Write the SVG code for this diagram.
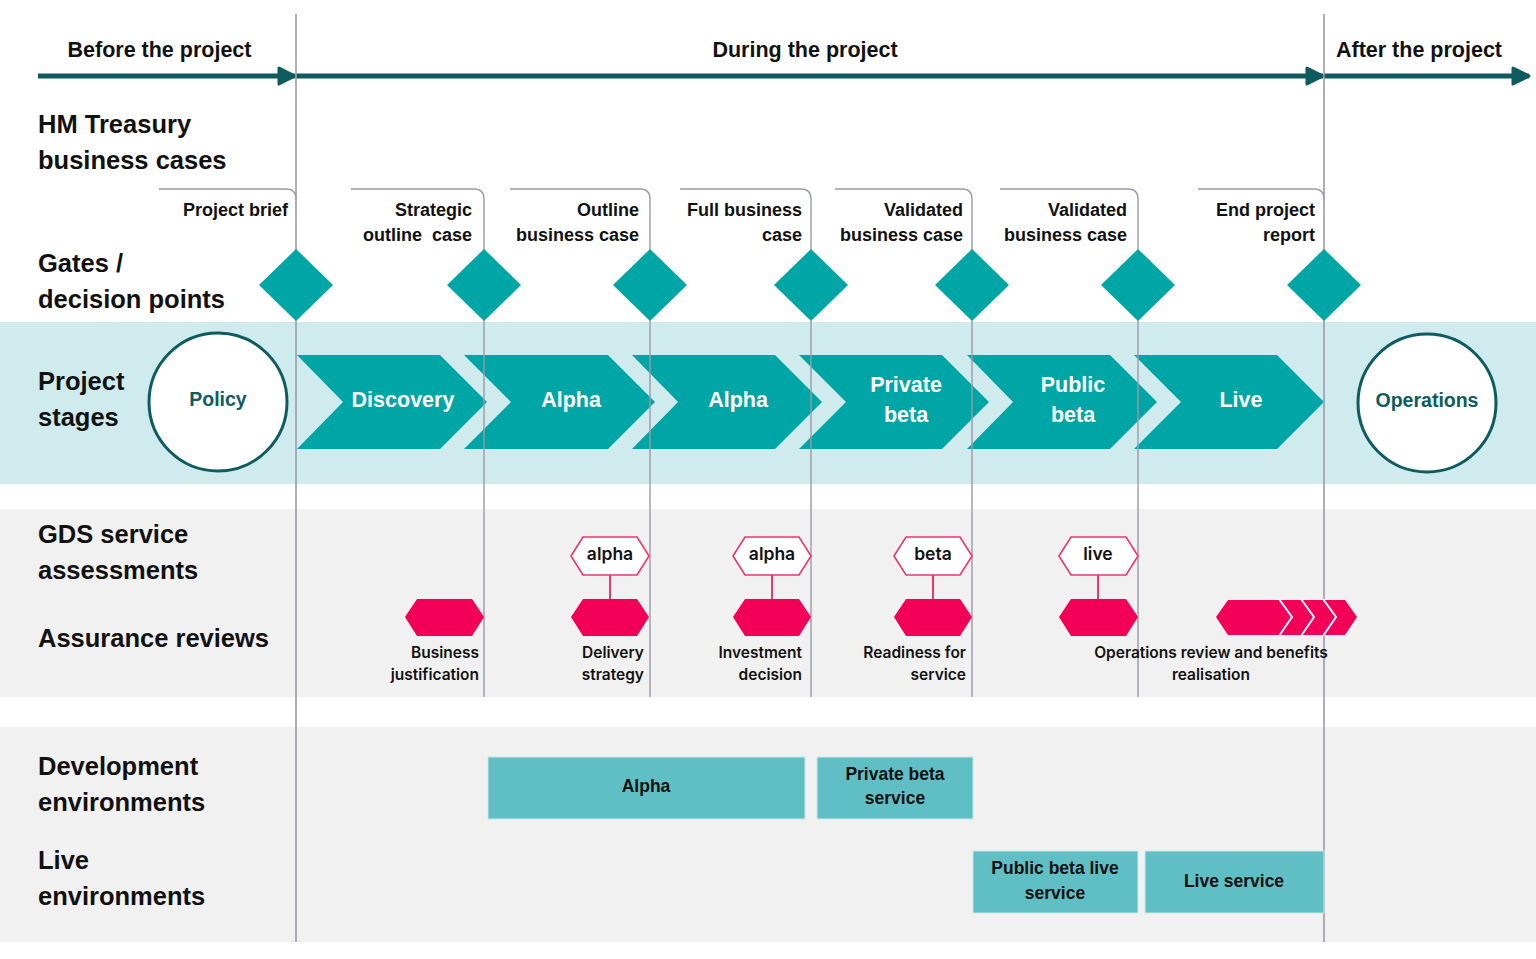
<svg xmlns="http://www.w3.org/2000/svg" width="1536" height="959" viewBox="0 0 1536 959">
<defs>
<style>
.t{font-family:"Liberation Sans",Arial,sans-serif;font-weight:bold;fill:#111}
.hd{font-size:21.5px;text-anchor:middle}
.lb{font-size:25.5px}
.gl{font-size:18px;text-anchor:end}
.ch{font-size:21.5px;fill:#fff;text-anchor:middle}
.bx{font-size:17.5px;text-anchor:middle}
.ci{font-size:19.5px;fill:#0d5c60;text-anchor:middle}
.r{font-family:Inter,"Noto Sans",sans-serif;font-weight:600;fill:#111}
.rl{font-size:15.5px;text-anchor:end}
.hx{font-size:17.5px;text-anchor:middle}
.vl{stroke:#9b9ba8;stroke-width:1.6;fill:none}
.br{stroke:#9b9ba8;stroke-width:1.4;fill:none}
.dm{fill:#00a6a6}
.chv{fill:#00a6a6}
.ho{fill:#fff;stroke:#f2336b;stroke-width:1.6}
.hf{fill:#f20057}
.box{fill:#5fbfc4;stroke:#c9e8ea;stroke-width:1}
</style>
<marker id="ah" viewBox="0 0 10 10" refX="9" refY="5" markerWidth="4" markerHeight="4.4" orient="auto" markerUnits="strokeWidth">
<path d="M1,1 L9,5 L1,9 Z" fill="#0e5b5f" stroke="#0e5b5f" stroke-width="1.5" stroke-linejoin="round"/>
</marker>
</defs>
<rect width="1536" height="959" fill="#fff"/>
<!-- bands -->
<rect x="0" y="322" width="1536" height="162" fill="#cfebed"/>
<rect x="0" y="509" width="1536" height="188" fill="#f1f1f1"/>
<rect x="0" y="727" width="1536" height="215" fill="#f1f1f1"/>

<!-- timeline arrows -->
<g id="timeline">
<line x1="38" y1="76" x2="295" y2="76" stroke="#0e5b5f" stroke-width="5" marker-end="url(#ah)"/>
<line x1="296" y1="76" x2="1323" y2="76" stroke="#0e5b5f" stroke-width="5" marker-end="url(#ah)"/>
<line x1="1324" y1="76" x2="1529" y2="76" stroke="#0e5b5f" stroke-width="5" marker-end="url(#ah)"/>
<text class="t hd" x="159.5" y="57">Before the project</text>
<text class="t hd" x="805" y="57">During the project</text>
<text class="t hd" x="1419" y="57">After the project</text>
</g>

<!-- row labels -->
<g id="row-labels">
<text class="t lb" x="38" y="133">HM Treasury</text>
<text class="t lb" x="38" y="168.5">business cases</text>
<text class="t lb" x="38" y="272">Gates /</text>
<text class="t lb" x="38" y="307.5">decision points</text>
<text class="t lb" x="38" y="390">Project</text>
<text class="t lb" x="38" y="425.5">stages</text>
<text class="t lb" x="38" y="543">GDS service</text>
<text class="t lb" x="38" y="578.5">assessments</text>
<text class="t lb" x="38" y="647">Assurance reviews</text>
<text class="t lb" x="38" y="775">Development</text>
<text class="t lb" x="38" y="810.5">environments</text>
<text class="t lb" x="38" y="869">Live</text>
<text class="t lb" x="38" y="904.5">environments</text>
</g>

<!-- stage chevrons -->
<g id="stages">
<g id="stage-discovery"><polygon class="chv" points="297,355 440,355 487,402 440,449 297,449 343,402"/><text class="t ch" x="403" y="407">Discovery</text></g>
<g id="stage-alpha1"><polygon class="chv" points="464,355 608,355 655,402 608,449 464,449 511,402"/><text class="t ch" x="571" y="407">Alpha</text></g>
<g id="stage-alpha2"><polygon class="chv" points="632,355 775,355 822,402 775,449 632,449 678,402"/><text class="t ch" x="738" y="407">Alpha</text></g>
<g id="stage-private-beta"><polygon class="chv" points="799,355 942,355 989,402 942,449 799,449 846,402"/><text class="t ch" x="906" y="392">Private</text><text class="t ch" x="906" y="422">beta</text></g>
<g id="stage-public-beta"><polygon class="chv" points="967,355 1110,355 1157,402 1110,449 967,449 1013,402"/><text class="t ch" x="1073" y="392">Public</text><text class="t ch" x="1073" y="422">beta</text></g>
<g id="stage-live"><polygon class="chv" points="1134,355 1277,355 1324,402 1277,449 1134,449 1181,402"/><text class="t ch" x="1241" y="407">Live</text></g>
</g>

<g id="policy"><circle cx="218" cy="402" r="69" fill="#fff" stroke="#0d5c60" stroke-width="3"/><text class="t ci" x="218" y="406">Policy</text></g>
<g id="operations"><circle cx="1427" cy="403" r="69" fill="#fff" stroke="#0d5c60" stroke-width="3"/><text class="t ci" x="1427" y="407">Operations</text></g>

<!-- vertical gate lines and brackets -->
<g id="connectors">
<line class="vl" x1="296" y1="14" x2="296" y2="942"/>
<line class="vl" x1="1324" y1="14" x2="1324" y2="942"/>
<path class="br" d="M159,189 H286 Q296,189 296,199"/>
<path class="br" d="M351,189 H474 Q484,189 484,199 V697"/>
<path class="br" d="M510,189 H640 Q650,189 650,199 V697"/>
<path class="br" d="M680,189 H801 Q811,189 811,199 V697"/>
<path class="br" d="M835,189 H962 Q972,189 972,199 V697"/>
<path class="br" d="M1000,189 H1128 Q1138,189 1138,199 V697"/>
<path class="br" d="M1198,189 H1314 Q1324,189 1324,199"/>
<line x1="610" y1="575" x2="610" y2="599" stroke="#f2336b" stroke-width="2"/>
<line x1="772" y1="575" x2="772" y2="599" stroke="#f2336b" stroke-width="2"/>
<line x1="933" y1="575" x2="933" y2="599" stroke="#f2336b" stroke-width="2"/>
<line x1="1098" y1="575" x2="1098" y2="599" stroke="#f2336b" stroke-width="2"/>
</g>

<!-- gate labels -->
<g id="gate-labels">
<text class="t gl" x="288" y="215.5">Project brief</text>
<text class="t gl" x="472" y="215.5">Strategic</text><text class="t gl" x="472" y="240.5" xml:space="preserve">outline  case</text>
<text class="t gl" x="639" y="215.5">Outline</text><text class="t gl" x="639" y="240.5">business case</text>
<text class="t gl" x="802" y="215.5">Full business</text><text class="t gl" x="802" y="240.5">case</text>
<text class="t gl" x="963" y="215.5">Validated</text><text class="t gl" x="963" y="240.5">business case</text>
<text class="t gl" x="1127" y="215.5">Validated</text><text class="t gl" x="1127" y="240.5">business case</text>
<text class="t gl" x="1315" y="215.5">End project</text><text class="t gl" x="1315" y="240.5">report</text>
</g>

<!-- gate diamonds -->
<g id="gates">
<polygon id="gate-1" class="dm" points="296,249 333,285 296,321 259,285"/>
<polygon id="gate-2" class="dm" points="484,249 521,285 484,321 447,285"/>
<polygon id="gate-3" class="dm" points="650,249 687,285 650,321 613,285"/>
<polygon id="gate-4" class="dm" points="811,249 848,285 811,321 774,285"/>
<polygon id="gate-5" class="dm" points="972,249 1009,285 972,321 935,285"/>
<polygon id="gate-6" class="dm" points="1138,249 1175,285 1138,321 1101,285"/>
<polygon id="gate-7" class="dm" points="1324,249 1361,285 1324,321 1287,285"/>
</g>

<!-- GDS assessments -->
<g id="gds-alpha1"><polygon class="ho" points="571,556 583,537 637,537 649,556 637,575 583,575"/><text class="r hx" x="610" y="560">alpha</text></g>
<g id="gds-alpha2"><polygon class="ho" points="733,556 745,537 799,537 811,556 799,575 745,575"/><text class="r hx" x="772" y="560">alpha</text></g>
<g id="gds-beta"><polygon class="ho" points="894,556 906,537 960,537 972,556 960,575 906,575"/><text class="r hx" x="933" y="560">beta</text></g>
<g id="gds-live"><polygon class="ho" points="1059,556 1071,537 1126,537 1138,556 1126,575 1071,575"/><text class="r hx" x="1098" y="560">live</text></g>

<!-- assurance reviews -->
<g id="ar-business-justification"><polygon class="hf" points="405,617 417,599 472,599 484,617 472,636 417,636"/><text class="r rl" x="479" y="658">Business</text><text class="r rl" x="479" y="680">justification</text></g>
<g id="ar-delivery-strategy"><polygon class="hf" points="571,617 583,599 637,599 649,617 637,636 583,636"/><text class="r rl" x="644" y="658">Delivery</text><text class="r rl" x="644" y="680">strategy</text></g>
<g id="ar-investment-decision"><polygon class="hf" points="733,617 745,599 799,599 811,617 799,636 745,636"/><text class="r rl" x="802" y="658">Investment</text><text class="r rl" x="802" y="680">decision</text></g>
<g id="ar-readiness"><polygon class="hf" points="894,617 906,599 960,599 972,617 960,636 906,636"/><text class="r rl" x="966" y="658">Readiness for</text><text class="r rl" x="966" y="680">service</text></g>
<g id="ar-live"><polygon class="hf" points="1059,617 1071,599 1126,599 1138,617 1126,636 1071,636"/></g>
<g id="ar-operations">
<polygon class="hf" points="1216,617 1228,600 1345,600 1357,617 1345,635 1228,635"/>
<polyline points="1279,599 1292,617 1279,636" fill="none" stroke="#fff" stroke-width="2"/>
<polyline points="1301,599 1314,617 1301,636" fill="none" stroke="#fff" stroke-width="2"/>
<polyline points="1323,599 1336,617 1323,636" fill="none" stroke="#fff" stroke-width="2"/>
<text class="r" font-size="15.5" text-anchor="middle" x="1211" y="658">Operations review and benefits</text>
<text class="r" font-size="15.5" text-anchor="middle" x="1211" y="680">realisation</text>
</g>

<!-- environments -->
<g id="env-alpha"><rect class="box" x="488" y="757" width="317" height="62"/><text class="t bx" x="646" y="792">Alpha</text></g>
<g id="env-private-beta"><rect class="box" x="817" y="757" width="156" height="62"/><text class="t bx" x="895" y="780">Private beta</text><text class="t bx" x="895" y="804">service</text></g>
<g id="env-public-beta"><rect class="box" x="973" y="851" width="165" height="62"/><text class="t bx" x="1055" y="874">Public beta live</text><text class="t bx" x="1055" y="899">service</text></g>
<g id="env-live"><rect class="box" x="1145" y="851" width="179" height="62"/><text class="t bx" x="1234" y="887">Live service</text></g>
</svg>
